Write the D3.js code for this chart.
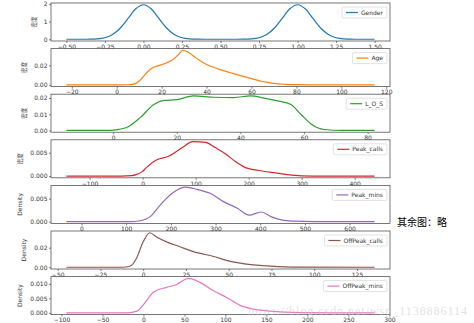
<!DOCTYPE html>
<html><head><meta charset="utf-8">
<script src="https://cdn.jsdelivr.net/npm/d3@7"></script>
<style>body{margin:0;background:#fff}svg{display:block}</style>
</head><body><svg id="c" width="474" height="323"></svg>
<script>
// ---- data ----
const names = ["Gender","Age","L_O_S","Peak_calls","Peak_mins","OffPeak_calls","OffPeak_mins"];
const colors = ["#1f77b4","#ff7f0e","#2ca02c","#d62728","#9467bd","#8c564b","#e377c2"];
const yLabels = ["密度","密度","密度","密度","Density","Density","Density"];

const genderX = [-0.5,-0.4,-0.35,-0.3,-0.25,-0.2,-0.15,-0.1,-0.05,0,0.05,0.1,0.15,0.2,0.25,0.3,0.35,0.4,0.5,0.6,0.65,0.7,0.75,0.8,0.85,0.9,0.95,1.0,1.05,1.1,1.15,1.2,1.25,1.3,1.35,1.4,1.5];
const genderY = [0,0,0.004,0.022,0.086,0.264,0.635,1.18,1.72,1.95,1.72,1.18,0.635,0.264,0.086,0.022,0.004,0,0,0,0.004,0.022,0.086,0.264,0.635,1.18,1.72,1.95,1.72,1.18,0.635,0.264,0.086,0.022,0.004,0,0];

const ageX = [-22.4,0,5,8,10,12,14,16,19,22,25,27.5,29.5,31.5,34,37,40,45,50,55,60,65,70,75,80,90,100,114.8];
const ageY = [0,0,0.0001,0.001,0.004,0.009,0.014,0.0175,0.02,0.0225,0.026,0.031,0.0355,0.034,0.03,0.025,0.021,0.0165,0.013,0.0095,0.0065,0.0035,0.0015,0.0006,0.0002,0.00005,0,0];

const losX = [-14.7,-2,0,4.2,8.6,12.8,16,20,25.3,31.6,37.9,43.2,47.5,51.7,55.9,59,62.2,66.4,72,82.2];
const losY = [0,0,0.0002,0.0018,0.0081,0.016,0.0185,0.019,0.0213,0.0205,0.0203,0.0213,0.02,0.0183,0.016,0.010,0.004,0.0006,0,0];

const pcX = [-143.7,-40,-20,-12,0,6,25,50,75,94,119,137,156,175,194,219,250,281,320,437.5];
const pcY = [0,0,0.0001,0.0003,0.001,0.0017,0.0034,0.0043,0.0061,0.0074,0.0072,0.0061,0.0048,0.0031,0.0018,0.0012,0.0007,0.0002,0,0];

const pmX = [-33.8,110,131,154,176,206,233,259,289,319,349,375,402,424,447,477,520,656];
const pmY = [0,0,0.0002,0.0011,0.0036,0.0064,0.0075,0.007,0.0061,0.0043,0.0029,0.0014,0.0021,0.0011,0.0004,0.0001,0,0];

const opcX = [-44.9,-12,-7.8,-3.9,0,3.9,7.8,13.7,21.5,29.4,41.2,51,63,79,95,135.3];
const opcY = [0,0,0.001,0.0093,0.026,0.0353,0.031,0.026,0.021,0.016,0.011,0.006,0.0027,0.0007,0.0001,0];

const opmX = [-94,-20,-8,4,12,28,40,55,69,85,101,118,134,159,191,230,282];
const opmY = [0,0,0.0006,0.0043,0.0071,0.0088,0.0097,0.0119,0.0105,0.0077,0.0054,0.0026,0.0013,0.0005,0.0001,0,0];

const xsAll = [genderX, ageX, losX, pcX, pmX, opcX, opmX];
const ysAll = [genderY, ageY, losY, pcY, pmY, opcY, opmY];

const xTicks = [
  [-0.5,-0.25,0,0.25,0.5,0.75,1.0,1.25,1.5],
  [-20,0,20,40,60,80,100,120],
  [0,20,40,60,80],
  [-100,0,100,200,300,400],
  [0,100,200,300,400,500,600],
  [-50,-25,0,25,50,75,100,125],
  [-100,-50,0,50,100,150,200,250,300]
];
const xFormats = [".2f","d","d","d","d","d","d"];
const yTicks = [
  [0,1,2],
  [0,0.02],
  [0,0.01,0.02],
  [0,0.005],
  [0,0.005],
  [0,0.02],
  [0,0.005,0.01]
];
const yFormats = ["d",".2f",".2f",".3f",".3f",".2f",".3f"];
const sideNote = "其余图：略";
const watermark = "https://blog.csdn.net/wsp_1138886114";

// ---- drawing ----
const svg = d3.select("#c");
const L = 51, R = 390, top0 = 3, step = 45.6, ph = 38;
const fmtMinus = s => s.replace("-", "\u2212");

names.forEach((name, i) => {
  const xs = xsAll[i], ys = ysAll[i];
  const data = xs.map((x, k) => [x, ys[k]]);
  const [x0, x1] = d3.extent(xs);
  const dx = (x1 - x0) * 0.05;
  const ymax = d3.max(ys), ymin = d3.min(ys);
  const dy = (ymax - ymin) * 0.05;
  const t = top0 + i * step, b = t + ph;
  const x = d3.scaleLinear().domain([x0 - dx, x1 + dx]).range([L, R]);
  const y = d3.scaleLinear().domain([ymin - dy, ymax + dy]).range([b, t]);
  const g = svg.append("g");
  g.append("rect").attr("x", L).attr("y", t).attr("width", R - L).attr("height", ph).attr("fill", "#fff");

  g.append("path").datum(data)
    .attr("fill", "none").attr("stroke", colors[i]).attr("stroke-width", 1.2)
    .attr("d", d3.line().x(d => x(d[0])).y(d => y(d[1])).curve(d3.curveMonotoneX));

  const xa = g.append("g").attr("transform", `translate(0,${b})`)
    .call(d3.axisBottom(x).tickValues(xTicks[i]).tickFormat(v => fmtMinus(d3.format(xFormats[i])(v))).tickSizeOuter(0).tickSize(2).tickPadding(1.5));
  const ya = g.append("g").attr("transform", `translate(${L},0)`)
    .call(d3.axisLeft(y).tickValues(yTicks[i]).tickFormat(v => d3.format(yFormats[i])(v)).tickSizeOuter(0).tickSize(2).tickPadding(1.5));
  [xa, ya].forEach(a => {
    a.select(".domain").remove();
    a.selectAll("line").attr("stroke", "#444").attr("stroke-width", 0.7);
    a.selectAll("text").attr("font-family", "DejaVu Sans").attr("font-size", 6).attr("fill", "#333");
  });

  g.append("rect").attr("x", L).attr("y", t).attr("width", R - L).attr("height", ph)
    .attr("fill", "none").attr("stroke", "#555").attr("stroke-width", 0.8);

  // y label placed left of the tick labels
  let minX = 0;
  ya.selectAll("text").each(function () {
    const bb = this.getBBox();
    minX = Math.min(minX, bb.x - 3.5);
  });
  const lx = L + minX - 4.5;
  g.append("text").attr("transform", `translate(${lx},${(t + b) / 2}) rotate(-90)`)
    .attr("text-anchor", "middle")
    .attr("font-family", yLabels[i] === "Density" ? "DejaVu Sans" : "Noto Sans CJK SC")
    .attr("font-size", yLabels[i] === "Density" ? 6 : 5.5).attr("fill", "#333").text(yLabels[i]);

  // legend
  const lg = g.append("g");
  const txt = lg.append("text").attr("font-family", "DejaVu Sans").attr("font-size", 6).attr("fill", "#333").text(name);
  const tw = txt.node().getComputedTextLength();
  const bw = tw + 23, bh = 11;
  const bx = R - 3 - bw, by = t + 4;
  lg.insert("rect", "text").attr("x", bx).attr("y", by).attr("width", bw).attr("height", bh)
    .attr("rx", 1.5).attr("fill", "#fff").attr("fill-opacity", 0.8).attr("stroke", "#ccc").attr("stroke-width", 0.6);
  lg.append("line").attr("x1", bx + 4).attr("x2", bx + 16).attr("y1", by + bh / 2).attr("y2", by + bh / 2)
    .attr("stroke", colors[i]).attr("stroke-width", 1.2);
  txt.attr("x", bx + 19).attr("y", by + bh / 2 + 2.1);
});

svg.append("text").attr("x", 397).attr("y", 226).attr("font-family", "Noto Sans CJK SC")
  .attr("font-size", 10).attr("fill", "#000").text(sideNote);

svg.append("text").attr("x", 248).attr("y", 315).attr("font-family", "Liberation Serif")
  .attr("font-size", 12).attr("textLength", 219).attr("fill", "#c8c8c8").attr("fill-opacity", 0.55).text(watermark);
</script></body></html>
